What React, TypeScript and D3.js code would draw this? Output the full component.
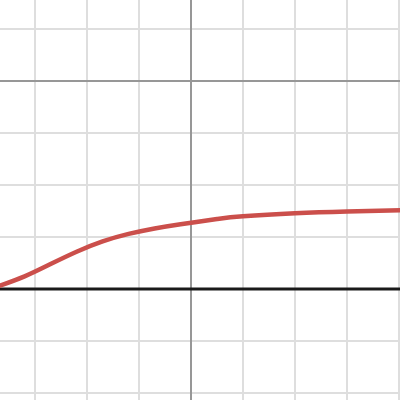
import React, { useEffect, useRef } from 'react';
import * as d3 from 'd3';

// grid ticks (graph units)
const xTicks = [-3, -2, -1, 0, 1, 2, 3, 4];
const yTicks = [1, 0, -1, -2, -3, -4, -5, -6];

// horizontal black reference line
const baselineY = -4;

// red curve
const curveX = [-3.7, -3.2, -2.7, -2.2, -1.7, -1.2, -0.7, -0.2, 0.5, 1, 2, 3, 4.1];
const curveY = [-3.945, -3.757, -3.52, -3.283, -3.085, -2.94, -2.835, -2.753, -2.655, -2.602, -2.545, -2.51, -2.483];

const WIDTH = 400;
const HEIGHT = 400;

export default function App() {
  const svgRef = useRef<SVGSVGElement>(null);

  useEffect(() => {
    document.body.style.margin = '0';
    if (!svgRef.current) return;

    const unit = 52;
    const x = d3.scaleLinear()
      .domain([-191 / unit, (WIDTH - 191) / unit])
      .range([0, WIDTH]);
    const y = d3.scaleLinear()
      .domain([81 / unit, -(HEIGHT - 81) / unit])
      .range([0, HEIGHT]);

    const svg = d3.select(svgRef.current);
    svg.selectAll('*').remove();

    svg.append('rect')
      .attr('width', WIDTH)
      .attr('height', HEIGHT)
      .attr('fill', '#ffffff');

    // light grid
    svg.append('g')
      .selectAll('line')
      .data(xTicks.filter(d => d !== 0))
      .enter()
      .append('line')
      .attr('x1', d => x(d))
      .attr('x2', d => x(d))
      .attr('y1', 0)
      .attr('y2', HEIGHT)
      .attr('stroke', '#dedede')
      .attr('stroke-width', 2);

    svg.append('g')
      .selectAll('line')
      .data(yTicks.filter(d => d !== 0))
      .enter()
      .append('line')
      .attr('x1', 0)
      .attr('x2', WIDTH)
      .attr('y1', d => y(d))
      .attr('y2', d => y(d))
      .attr('stroke', '#dedede')
      .attr('stroke-width', 2);

    // axes
    svg.append('line')
      .attr('x1', x(0)).attr('x2', x(0))
      .attr('y1', 0).attr('y2', HEIGHT)
      .attr('stroke', '#979797')
      .attr('stroke-width', 2);
    svg.append('line')
      .attr('x1', 0).attr('x2', WIDTH)
      .attr('y1', y(0)).attr('y2', y(0))
      .attr('stroke', '#979797')
      .attr('stroke-width', 2);

    // black line
    svg.append('line')
      .attr('x1', 0).attr('x2', WIDTH)
      .attr('y1', y(baselineY)).attr('y2', y(baselineY))
      .attr('stroke', '#1a1a1a')
      .attr('stroke-width', 3);

    const points: [number, number][] = curveX.map((d, i) => [d, curveY[i]]);
    const line = d3.line<[number, number]>()
      .x(d => x(d[0]))
      .y(d => y(d[1]))
      .curve(d3.curveNatural);

    svg.append('path')
      .datum(points)
      .attr('d', line)
      .attr('fill', 'none')
      .attr('stroke', '#cb4f4b')
      .attr('stroke-width', 4.5)
      .attr('stroke-linecap', 'round');
  }, []);

  return (
    <svg
      ref={svgRef}
      width={WIDTH}
      height={HEIGHT}
      style={{ display: 'block', position: 'absolute', left: 0, top: 0 }}
    />
  );
}
